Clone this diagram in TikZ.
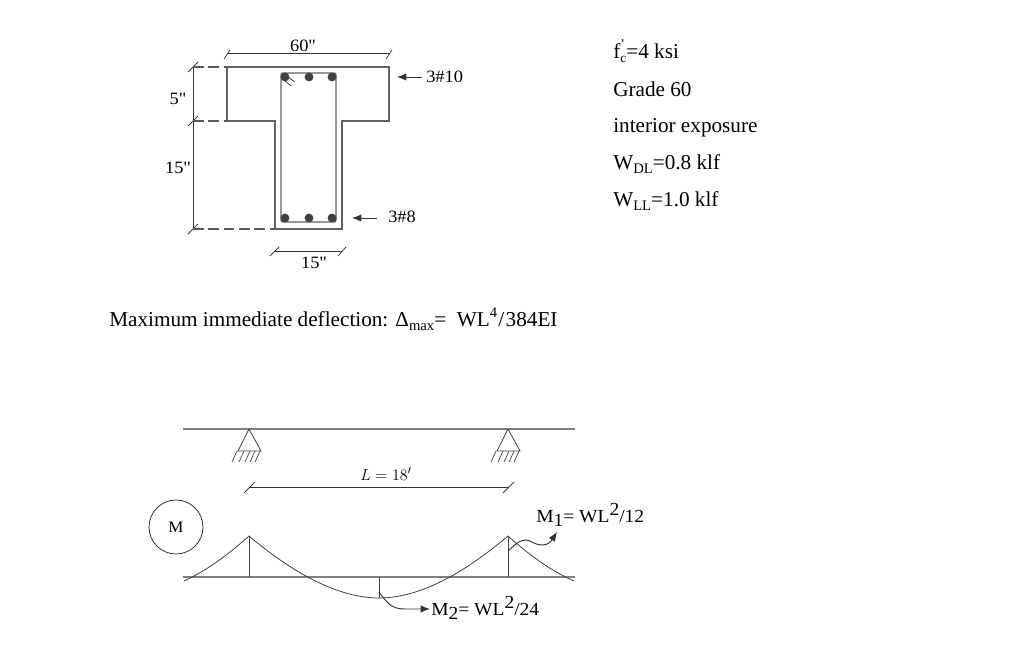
\documentclass[tikz,border=0pt]{standalone}
\usepackage{fontspec}
\setmainfont{Liberation Serif}
\newfontfamily\cam[FakeStretch=1.06]{Liberation Serif}
\usetikzlibrary{arrows.meta}
\newcommand{\fs}[1]{\fontsize{#1}{#1}\selectfont}
\newcommand{\lowr}[3]{\raisebox{#2}{\fs{#1}#3}}
\tikzset{
  x=0.75pt,y=-0.75pt,
  ink/.style={draw=black!80,line width=0.75pt},
  wall/.style={draw=black!62,line width=0.95pt},
  beam/.style={draw=black!50,line width=1.1pt},
  thin line/.style={draw=black!75,line width=0.6pt},
  dash line/.style={draw=black!65,line width=0.8pt,dash pattern=on 8pt off 3.5pt},
  lead/.style={draw=black!80,line width=0.7pt,-{Latex[length=7pt,width=5.5pt]}},
  bar/.style={circle,fill=black!75,inner sep=0pt,minimum size=6.6pt},
  label/.style={inner sep=0pt,font=\cam\fs{13}},
  spec/.style={anchor=base west,inner sep=0pt,font=\fs{15.9}},
  hatch/.style={draw=black!70,line width=0.55pt},
}
\newcommand{\support}[2]{%
  \coordinate (#1) at (#2,429);
  \draw[thin line] (#2,429) -- (#2-11,451) -- (#2+12,451) -- cycle;
  \foreach \d in {-12,-5,1,6,11}{\draw[hatch] (#2+\d,451) -- (#2+\d-5,462);}
}
\begin{document}
\begin{tikzpicture}
\useasboundingbox (0,0) rectangle (1024,667);
% T section
\draw[wall] (227,67) -- (389,67) -- (389,121) -- (342,121) -- (342,229) -- (275,229) -- (275,121) -- (227,121) -- cycle;
\draw[wall,rounded corners=1.5pt] (281,73) rectangle (336,222);
\draw[thin line] (284,74) -- (295,82);
\draw[thin line] (284,80) -- (291,86);
\foreach \n/\x in {ta/285,tb/309,tc/332}{\node[bar] (\n) at (\x,77) {};}
\foreach \n/\x in {ba/285,bb/309,bc/332}{\node[bar] (\n) at (\x,218) {};}
% dimensions
\draw[ink] (227,54) -- (389,54);
\draw[thin line] (224,59) -- (230,50);
\draw[thin line] (386,59) -- (392,50);
\node[label] (w60) at (303,46) {60"};
\draw[ink] (193,67) -- (193,229);
\foreach \y in {67,121,229}{\draw[thin line] (188,\y+5) -- (198,\y-5);}
\draw[dash line] (193,67) -- (227,67);
\draw[dash line] (193,121) -- (227,121);
\draw[dash line] (193,229) -- (275,229);
\node[label] (h5) at (178,99) {5"};
\node[label] (h15) at (178,168) {15"};
\draw[ink] (275,251) -- (342,251);
\draw[thin line] (270,256) -- (279,247);
\draw[thin line] (338,256) -- (346,247);
\node[label] (b15) at (314,263) {15"};
\node[label,anchor=west] (top) at (426,77) {3\#10};
\node[label,anchor=west] (bot) at (388,217) {3\#8};
\coordinate (toptip) at (397,77);
\coordinate (bottip) at (352,218);
\draw[lead] (top.west) ++(-4,0) -- (toptip);
\draw[lead] (bot.west) ++(-11,1) -- (bottip);
% properties
\node[spec] (p1) at (613,59) {f\rlap{\lowr{10}{-3pt}{c}}\rlap{\lowr{10}{7.5pt}{'}}\kern4.5pt=4 ksi};
\node[spec] (p2) at (613,96) {Grade 60};
\node[spec] (p3) at (613,132.5) {interior exposure};
\node[spec] (p4) at (613,169) {W\lowr{11}{-3pt}{DL}=0.8 klf};
\node[spec] (p5) at (613,206) {W\lowr{11}{-3pt}{LL}=1.0 klf};
\node[spec] (defl) at (109,326) {Maximum immediate deflection: Δ\lowr{11}{-3pt}{max}= \kern4pt WL\lowr{11}{6.5pt}{4}\kern1pt/\kern1pt384EI};
% beam
\draw[beam] (183,429) -- (575,429);
\support{sl}{249}
\support{sr}{508}
\coordinate (dl) at (249,487);
\coordinate (dr) at (508,487);
\draw[ink] (dl) -- (dr);
\draw[thin line] (244,493) -- (255,482);
\draw[thin line] (503,493) -- (514,482);
\node[inner sep=0pt,font=\fs{12.6}] (ll) at (386,474) {$L = 18'$};
% moment diagram
\node[draw=black!80,line width=0.6pt,circle,minimum size=40.5pt,inner sep=0pt,font=\cam\fs{12}] (mc) at (176,527) {M};
\draw[beam] (183,577) -- (575,577);
\coordinate (pl) at (249,536);
\coordinate (pr) at (508,536);
\coordinate (pm) at (379,598);
\draw[thin line] (184,581) .. controls (208,570) and (230,553) .. (pl)
  .. controls (280,562) and (330,598) .. (pm)
  .. controls (428,598) and (477,562) .. (pr)
  .. controls (527,553) and (549,570) .. (574,581);
\draw[thin line] (pl) -- (249,577);
\draw[thin line] (pr) -- (508,577);
\draw[thin line] (379,577) -- (pm);
\node[inner sep=0pt,anchor=base west,font=\cam\fs{13.8}] (m1) at (536,522) {M\lowr{13.8}{-3pt}{1}= WL\lowr{13.8}{5pt}{2}/12};
\node[inner sep=0pt,anchor=base west,font=\cam\fs{13.8}] (m2) at (431,615) {M\lowr{13.8}{-3pt}{2}= WL\lowr{13.8}{5pt}{2}/24};
\coordinate (m1s) at (508,551);
\coordinate (m2s) at (379,592);
\coordinate (m2t) at (430,609);
\draw[lead] (m1s) .. controls (518,542) and (522,538) .. (530,541) .. controls (540,547) and (548,546) .. (557,532);
\draw[lead] (m2s) .. controls (388,604) and (392,609) .. (405,609) -- (m2t);
\end{tikzpicture}
\end{document}
